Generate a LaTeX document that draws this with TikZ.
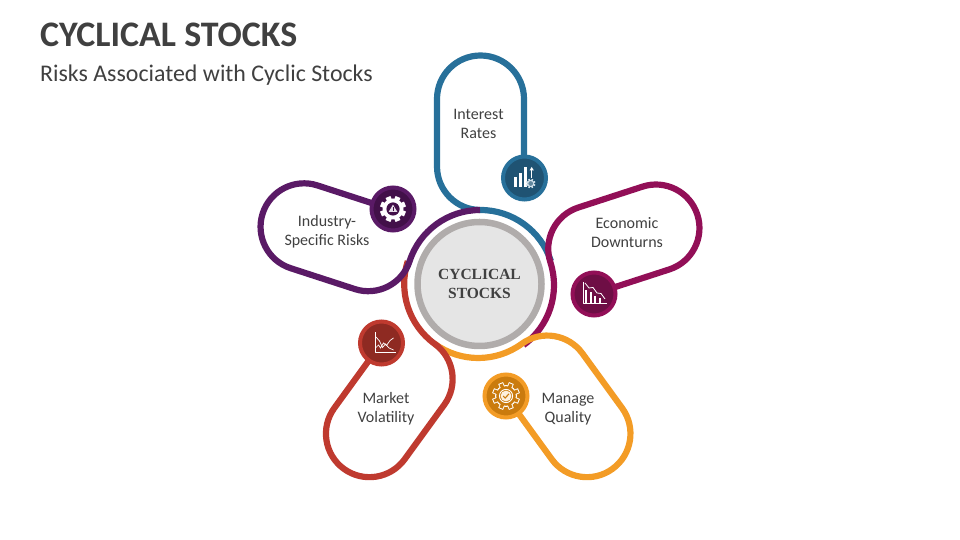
\documentclass[tikz,border=0pt]{standalone}
\usepackage{fontspec}
\setmainfont{Carlito}
\newfontfamily\serifbold{Liberation Serif}[BoldFont={Liberation Serif Bold}]
\definecolor{txt}{HTML}{404040}
\definecolor{blueL}{HTML}{27709A}\definecolor{blueD}{HTML}{1F5373}
\definecolor{magL}{HTML}{920F57}\definecolor{magD}{HTML}{6E0E45}
\definecolor{orgL}{HTML}{F39C26}\definecolor{orgD}{HTML}{CA7B0E}
\definecolor{redL}{HTML}{BF3A2F}\definecolor{redD}{HTML}{8E2A22}
\definecolor{purL}{HTML}{5A1A66}\definecolor{purD}{HTML}{421049}
\definecolor{ringC}{HTML}{B0ACAB}\definecolor{hubC}{HTML}{E5E5E5}
\tikzset{
  petal/.style={line width=6.2pt,line cap=butt,line join=round},
  label/.style={font=\fontsize{16}{19}\selectfont,text=txt,align=center,inner sep=0pt},
  iconline/.style={draw=white,line width=0.8pt,line join=round},
  iconfill/.style={fill=white,draw=none}
}
% petal in a frame rotated about the hub: angle, colour, x shift, y shift
\newcommand{\petalpath}[4]{%
  \draw[petal,draw=#2,shift={(#3,#4)},rotate=#1] (43.5,106) -- (43.5,185)
    arc[start angle=0,end angle=180,radius=43.5] -- (-43.5,117.5)
    arc[start angle=180,end angle=270,radius=43.5]
    arc[start angle=90,end angle=18,radius=74];}
\newcommand{\gearfill}[4]{% radius, tooth half width, tooth reach, colour
  \fill[#4] (0,0) circle (#1);
  \foreach \a in {0,45,...,315}{
    \fill[#4,rotate=\a+22.5] (#1-1,-#2) rectangle (#3,#2);}}
\begin{document}
\begin{tikzpicture}[x=1pt,y=1pt]
\useasboundingbox (0,0) rectangle (960,540);
\node[anchor=west,inner sep=0pt,text=txt] (title) at (40,505.5)
  {\fontsize{35.9}{38}\selectfont\bfseries CYCLICAL STOCKS};
\node[anchor=west,inner sep=0pt,text=txt] (subtitle) at (40,465)
  {\fontsize{23.9}{27}\selectfont Risks Associated with Cyclic Stocks};

\begin{scope}[shift={(480,256)}]
  \petalpath{0}{blueL}{0.5}{0}
  \petalpath{-72}{magL}{0}{-1.2}
  \petalpath{-144}{orgL}{-1.8}{0}
  \petalpath{-216}{redL}{-1.8}{0}
  \petalpath{-288}{purL}{0}{0}
  \node[circle,draw=ringC,fill=hubC,line width=6.5pt,minimum size=124pt,inner sep=0pt,
        text=txt,align=center,font=\serifbold\bfseries\fontsize{15.5}{19}\selectfont] (hub) at (-0.5,0)
        {CYCLICAL\\STOCKS};
\end{scope}

% icon discs
\node[circle,draw=blueL,fill=blueD,line width=4pt,minimum size=43pt,inner sep=0pt] (iconA) at (524.5,362) {};
\node[circle,draw=magL,fill=magD,line width=4pt,minimum size=43pt,inner sep=0pt] (iconB) at (594,246) {};
\node[circle,draw=orgL,fill=orgD,line width=4pt,minimum size=43pt,inner sep=0pt] (iconC) at (506,144) {};
\node[circle,draw=redL,fill=redD,line width=4pt,minimum size=43pt,inner sep=0pt] (iconD) at (381.5,197) {};
\node[circle,draw=purL,fill=purD,line width=4pt,minimum size=43pt,inner sep=0pt] (iconE) at (393,331) {};

% bars, arrow and small gear
\begin{scope}[shift={(iconA.center)}]
  \fill[white] (-10.5,-9) rectangle (-7.2,0.5);
  \fill[white] (-5.5,-9) rectangle (-2.2,5);
  \fill[white] (-0.5,-9) rectangle (2.8,10.5);
  \fill[white] (6.6,0) rectangle (7.8,8);
  \fill[white] (5,7.5) -- (7.2,11) -- (9.4,7.5) -- cycle;
  \begin{scope}[shift={(6.2,-5.5)}]
    \gearfill{3.5}{0.8}{4.8}{white!80!blueL}
    \fill[blueD!70!white] (0,0) circle (2.4);
  \end{scope}
\end{scope}

% chart with falling line
\begin{scope}[shift={(iconB.center)}]
  \draw[iconline] (-11,12) -- (-11,-9.5) -- (13,-9.5);
  \fill[white] (-8.8,-9) rectangle (-7,4);
  \fill[white] (-4.2,-9) rectangle (-2.4,1.5);
  \fill[white] (0.4,-9) rectangle (2.2,-2);
  \fill[white] (5,-9) rectangle (6.8,-4.5);
  \draw[iconline] (-9,11) -- (-5,6) -- (-1,6.5) -- (3,1) -- (7,0.5) -- (11,-5);
\end{scope}

% outlined gear with check
\begin{scope}[shift={(iconC.center)}]
  \gearfill{11}{2.6}{14}{white}
  \gearfill{9.8}{1.7}{13}{orgD}
  \draw[white,line width=0.9pt] (0,0) circle (6.6);
  \fill[white!85!orgL] (0,0) circle (5.4);
  \draw[orgD,line width=1.1pt] (-2.8,0) -- (-0.8,-2) -- (3,2.2);
\end{scope}

% chart with two zigzags
\begin{scope}[shift={(iconD.center)}]
  \draw[iconline] (-6,10.5) -- (-6,-9.5) -- (14,-9.5);
  \draw[white,line width=0.7pt] (-6,6.5) -- (-2,2) -- (1,-4.5) -- (4,-1) -- (7.5,-5) -- (12,-7);
  \draw[white,line width=0.7pt] (-6,-5) -- (-3,-2) -- (-1,-5) -- (2,0) -- (5,-2.5) -- (8.5,2.5) -- (12,5);
\end{scope}

% gear with warning triangle
\begin{scope}[shift={(iconE.center)}]
  \gearfill{10.5}{2.6}{13}{white}
  \fill[purD] (0,0) circle (6.6);
  \fill[white!85!purL] (-4.4,-3) -- (0,4.4) -- (4.4,-3) -- cycle;
  \fill[purD] (-0.5,-0.9) rectangle (0.5,2);
  \fill[purD] (-0.5,-2.3) rectangle (0.5,-1.4);
\end{scope}

\node[label] (lblA) at (478.5,416.5) {Interest\\Rates};
\node[label] (lblB) at (627,307) {Economic\\Downturns};
\node[label] (lblC) at (568,131) {Manage\\Quality};
\node[label] (lblD) at (386,131) {Market\\Volatility};
\node[label] (lblE) at (327,308.5) {Industry-\\Specific Risks};
\end{tikzpicture}
\end{document}
